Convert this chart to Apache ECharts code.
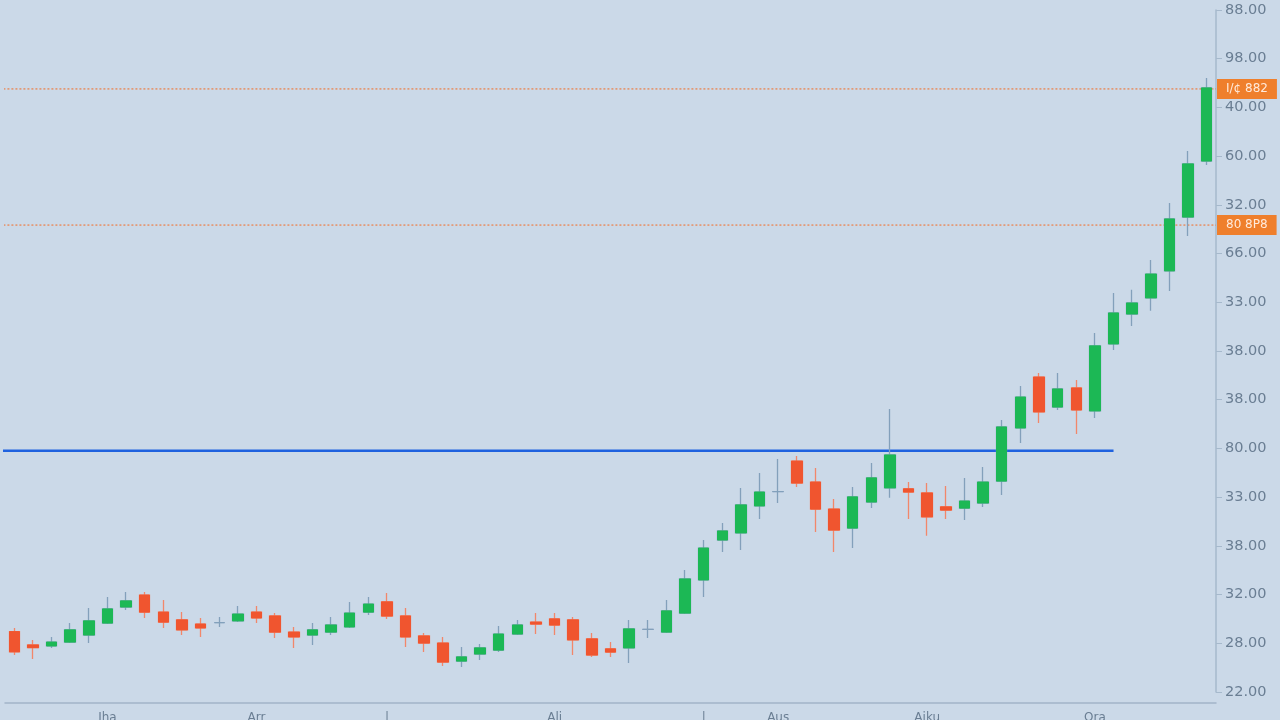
<!DOCTYPE html>
<html>
<head>
<meta charset="utf-8">
<script src="https://cdn.jsdelivr.net/npm/echarts@6/dist/echarts.min.js"></script>
<style>
html,body{margin:0;padding:0;background:#cbd9e8;}
#chart{width:1280px;height:720px;}
</style>
</head>
<body>
<div id="chart"></div>
<script>
// ---- data ----
const openV  = [24.48,23.93,23.89,24.05,24.34,24.83,25.49,25.98,25.28,24.96,24.79,24.85,24.92,25.28,25.12,24.46,24.34,24.46,24.67,25.28,25.70,25.12,24.30,24.01,23.27,23.56,23.72,24.38,24.87,25.00,24.96,24.18,23.77,23.81,24.57,24.46,25.24,26.60,28.24,28.53,29.64,30.23,31.48,30.62,29.51,28.73,29.80,30.38,30.34,30.17,29.60,29.55,29.76,30.66,32.84,34.93,33.70,34.48,33.54,36.29,37.52,38.18,39.29,41.50,43.80];
const closeV = [23.65,23.82,24.05,24.55,24.92,25.41,25.74,25.28,24.87,24.55,24.63,24.85,25.20,25.04,24.46,24.26,24.55,24.75,25.24,25.61,25.12,24.26,24.01,23.23,23.44,23.81,24.38,24.75,24.79,24.75,24.14,23.52,23.64,24.59,24.57,25.33,26.64,27.91,28.61,29.68,30.21,30.23,30.58,29.51,28.65,30.01,30.79,31.73,30.21,29.19,29.47,29.84,30.62,32.88,34.11,33.50,34.44,33.58,36.21,37.56,37.97,39.16,41.42,43.68,46.80];
const lowV   = [23.52,23.35,23.81,24.01,24.01,24.79,25.37,25.04,24.63,24.34,24.26,24.67,24.87,24.83,24.22,23.81,23.93,24.34,24.63,25.16,25.00,23.85,23.64,23.07,23.03,23.31,23.64,24.34,24.38,24.34,23.52,23.44,23.44,23.19,24.22,24.42,25.20,25.90,27.75,27.83,29.10,29.76,30.42,28.57,27.75,27.91,29.55,29.97,29.10,28.41,29.10,29.06,29.60,30.09,32.22,33.04,33.58,32.59,33.25,36.04,37.03,37.65,38.46,40.72,43.64];
const highV  = [24.63,24.14,24.26,24.83,25.45,25.90,26.11,26.11,25.78,25.28,25.04,25.08,25.53,25.53,25.24,24.67,24.83,25.08,25.70,25.90,26.06,25.45,24.42,24.26,23.85,23.97,24.71,24.96,25.24,25.24,25.08,24.42,24.05,24.96,24.96,25.78,27.01,28.24,28.94,30.38,30.99,31.57,31.69,31.20,29.92,30.42,31.40,33.62,30.62,30.58,30.46,30.79,31.24,33.17,34.56,35.10,35.10,34.81,36.74,38.38,38.51,39.74,42.08,44.21,47.21];

const xTickIndex  = [5, 13, 20, 29, 37, 41, 49, 58];
const xTickLabels = ['Jha', 'Arr', '|', 'Ali', '|', 'Aus', 'Aiku', 'Ora'];
const yTickLabels = ['22.00','28.00','32.00','38.00','33.00','80.00','38.00','38.00','33.00','66.00','32.00','60.00','40.00','98.00','88.00'];

const resistanceLevel = 31.90;
const resistanceStart = -0.8;
const resistanceEnd = 59;
const priceLevels = [46.76, 41.17];
const priceLevelLabels = ['I/¢ 882', '80 8P8'];

// ---- build ----
const categories = openV.map((_, i) => String(i + 1));
const fullData = openV.map((o, i) => [o, closeV[i], lowV[i], highV[i]]);
const bodyData = openV.map((o, i) => [o, closeV[i], Math.min(o, closeV[i]), Math.max(o, closeV[i])]);
const resistanceData = [[resistanceStart, resistanceLevel], [resistanceEnd, resistanceLevel]];
const levelLineData = priceLevels.map(v => [[resistanceStart, v], [openV.length - 0.5, v]]);

const UP = '#1cb855', DOWN = '#f0552f';
const AXIS = '#a6b9cc', LABEL = '#6a7e93';
const LEVEL = '#ea8450';
const chart = echarts.init(document.getElementById('chart'));
chart.setOption({
  backgroundColor: '#cbd9e8',
  animation: false,
  grid: { left: 5, right: 64, top: 10, bottom: 28, containLabel: false, outerBoundsMode: 'none' },
  xAxis: [{
    type: 'category',
    data: categories,
    offset: 11,
    boundaryGap: true,
    axisLine: { lineStyle: { color: '#a2b4c7', width: 1.5 } },
    axisTick: {
      alignWithLabel: true, length: 4,
      interval: (i) => xTickIndex.includes(i),
      lineStyle: { color: '#a2b4c7' }
    },
    axisLabel: {
      interval: (i) => xTickIndex.includes(i),
      formatter: (v, i) => { const k = xTickIndex.indexOf(i); return k >= 0 ? xTickLabels[k] : ''; },
      color: LABEL, fontSize: 12, margin: 9, fontFamily: 'DejaVu Sans'
    },
    splitLine: { show: false }
  }, {
    type: 'value',
    show: false,
    position: 'bottom',
    min: -0.5, max: openV.length - 0.5
  }],
  yAxis: {
    type: 'value',
    position: 'right',
    min: 22, max: 50, interval: 2,
    scale: true,
    axisLine: { show: true, onZero: false, lineStyle: { color: AXIS, width: 1.5 } },
    axisTick: { show: true, length: 6, lineStyle: { color: AXIS } },
    axisLabel: {
      color: LABEL, fontSize: 14.5, margin: 9, fontFamily: 'DejaVu Sans',
      formatter: (v) => yTickLabels[Math.round((v - 22) / 2)] || ''
    },
    splitLine: { show: false }
  },
  series: [
    {
      type: 'candlestick',
      data: fullData,
      barWidth: 11,
      itemStyle: {
        color: UP, color0: DOWN,
        borderColor: '#83a0bb', borderColor0: '#f2876a', borderColorDoji: '#83a0bb',
        borderWidth: 1.3
      },
      markLine: {
        silent: true,
        symbol: ['none', 'none'],
        lineStyle: { color: 'rgba(0,0,0,0)', width: 0 },
        data: priceLevels.map((v, k) => ({
          yAxis: v,
          label: {
            show: true, position: 'end', distance: 1,
            formatter: () => priceLevelLabels[k],
            backgroundColor: '#ef7f2c', color: '#ffeadb',
            padding: [4, 9], fontSize: 12, fontFamily: 'DejaVu Sans'
          }
        }))
      }
    },
    {
      type: 'candlestick',
      data: bodyData,
      barWidth: 11,
      itemStyle: {
        color: UP, color0: DOWN,
        borderColor: UP, borderColor0: DOWN, borderColorDoji: '#83a0bb',
        borderWidth: 1
      }
    },
    ...levelLineData.map(d => ({
      type: 'line',
      xAxisIndex: 1,
      data: d,
      showSymbol: false,
      clip: false,
      silent: true,
      z: 1,
      lineStyle: { color: LEVEL, width: 1.3, type: [2, 2] }
    })),
    {
      type: 'line',
      xAxisIndex: 1,
      data: resistanceData,
      showSymbol: false,
      clip: false,
      silent: true,
      z: 1,
      lineStyle: { color: '#1f62df', width: 2.5 }
    }
  ]
});
</script>
</body>
</html>
